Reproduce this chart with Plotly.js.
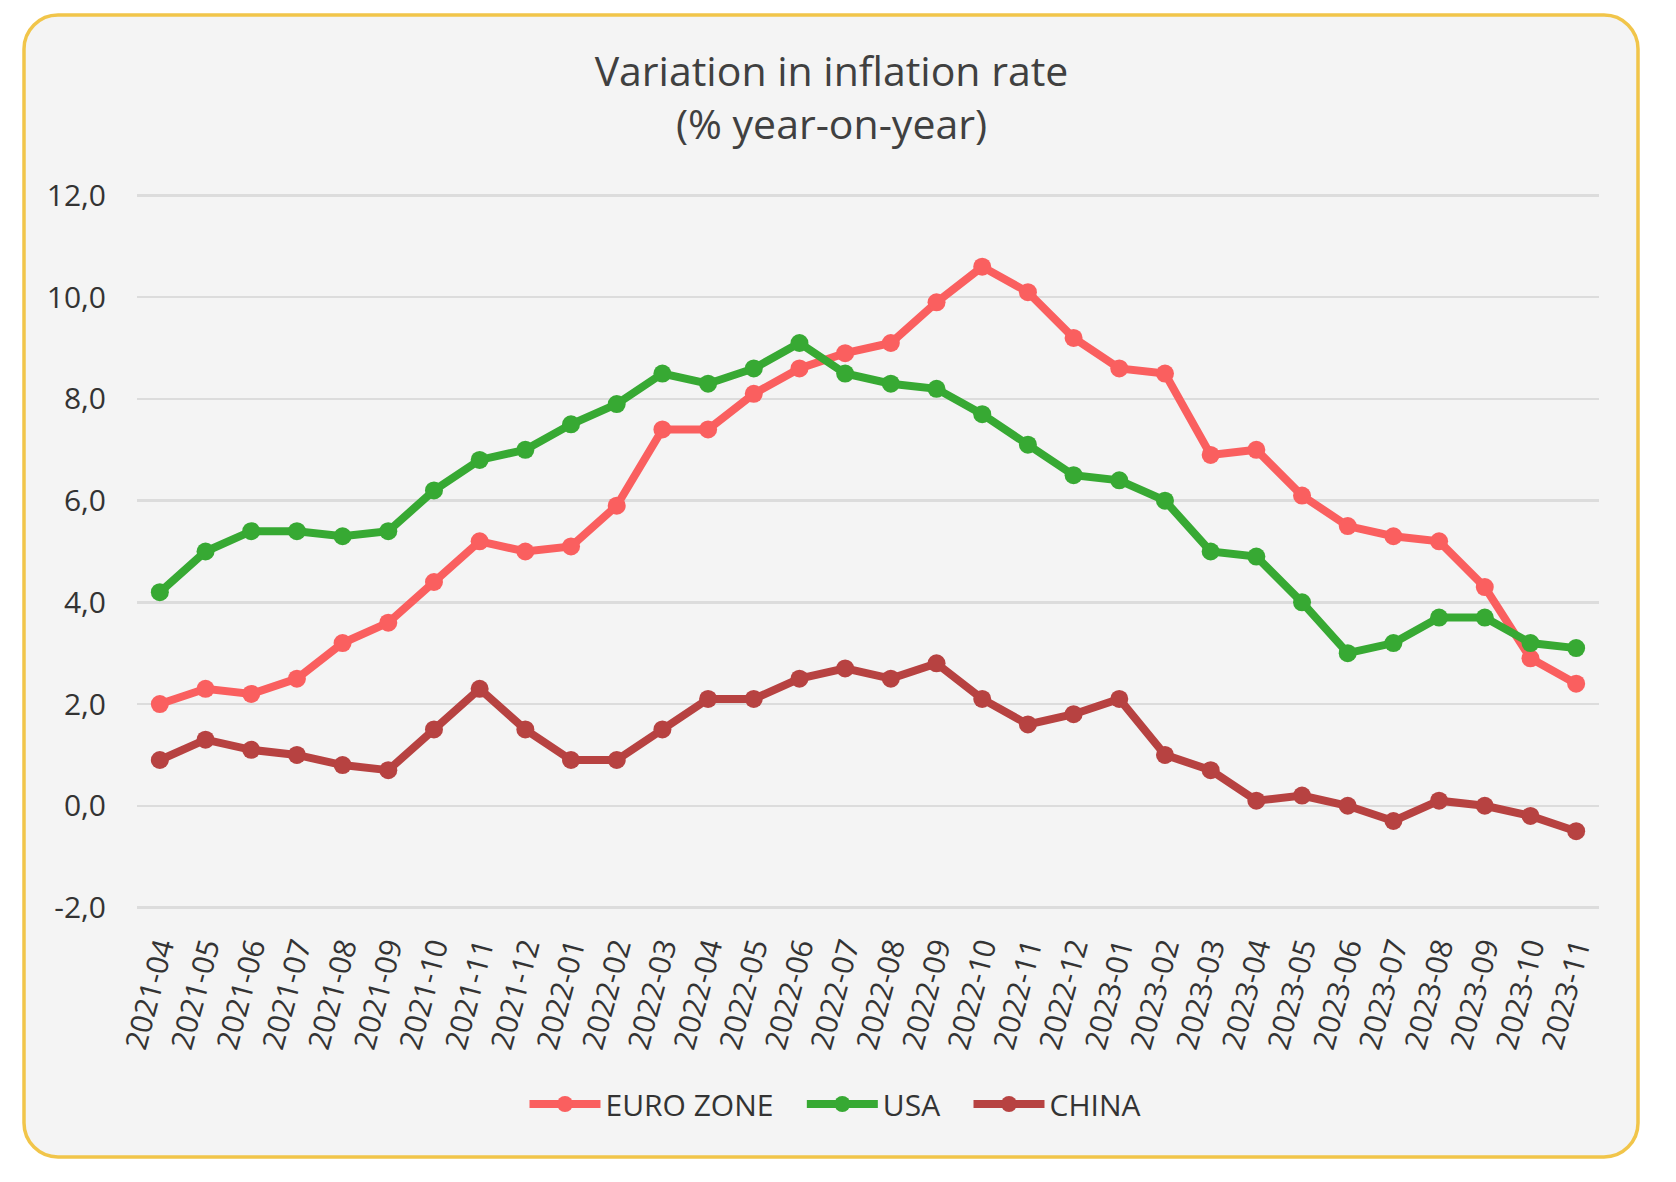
<!DOCTYPE html>
<html>
<head>
<meta charset="utf-8">
<script src="https://cdn.plot.ly/plotly-3.0.1.min.js"></script>
<style>
html,body{margin:0;padding:0;background:#ffffff;}
#chart{width:1676px;height:1182px;}
</style>
</head>
<body>
<div id="chart"></div>
<script>
// ---- data ----
const months = ['2021-04','2021-05','2021-06','2021-07','2021-08','2021-09','2021-10','2021-11','2021-12',
  '2022-01','2022-02','2022-03','2022-04','2022-05','2022-06','2022-07','2022-08','2022-09','2022-10','2022-11','2022-12',
  '2023-01','2023-02','2023-03','2023-04','2023-05','2023-06','2023-07','2023-08','2023-09','2023-10','2023-11'];
const euroZone = [2.0,2.3,2.2,2.5,3.2,3.6,4.4,5.2,5.0, 5.1,5.9,7.4,7.4,8.1,8.6,8.9,9.1,9.9,10.6,10.1,9.2, 8.6,8.5,6.9,7.0,6.1,5.5,5.3,5.2,4.3,2.9,2.4];
const usa      = [4.2,5.0,5.4,5.4,5.3,5.4,6.2,6.8,7.0, 7.5,7.9,8.5,8.3,8.6,9.1,8.5,8.3,8.2,7.7,7.1,6.5, 6.4,6.0,5.0,4.9,4.0,3.0,3.2,3.7,3.7,3.2,3.1];
const china    = [0.9,1.3,1.1,1.0,0.8,0.7,1.5,2.3,1.5, 0.9,0.9,1.5,2.1,2.1,2.5,2.7,2.5,2.8,2.1,1.6,1.8, 2.1,1.0,0.7,0.1,0.2,0.0,-0.3,0.1,0.0,-0.2,-0.5];
const seriesNames = ['EURO ZONE','USA','CHINA'];
const yTickValues = [-2,0,2,4,6,8,10,12];
const yTickLabels = ['-2,0','0,0','2,0','4,0','6,0','8,0','10,0','12,0'];

// ---- layout geometry ----
const W = 1676, H = 1182;
const M = {l:137, r:77, t:193, b:272, pad:0};
const pw = W - M.l - M.r, ph = H - M.t - M.b;
function px2x(p){ return (p - M.l) / pw; }
function py2y(p){ return (H - M.b - p) / ph; }

// rounded frame behind the chart (paper coordinates)
function framePath(L, T, R, B, r){
  const k = 0.5523 * r;
  const P = (x, y) => px2x(x).toFixed(5) + ',' + py2y(y).toFixed(5);
  return 'M' + P(L + r, T) +
    ' L' + P(R - r, T) +
    ' C' + P(R - r + k, T) + ' ' + P(R, T + r - k) + ' ' + P(R, T + r) +
    ' L' + P(R, B - r) +
    ' C' + P(R, B - r + k) + ' ' + P(R - r + k, B) + ' ' + P(R - r, B) +
    ' L' + P(L + r, B) +
    ' C' + P(L + r - k, B) + ' ' + P(L, B - r + k) + ' ' + P(L, B - r) +
    ' L' + P(L, T + r) +
    ' C' + P(L, T + r - k) + ' ' + P(L + r - k, T) + ' ' + P(L + r, T) + ' Z';
}

const colors = ['#fa5f5f', '#37a933', '#b74241'];
const values = [euroZone, usa, china];
const gapAfter = '\u00a0\u00a0\u00a0';   // extra spacing between legend entries

const traces = values.map((v, i) => ({
  type: 'scatter',
  mode: 'lines+markers',
  x: months,
  y: v,
  name: seriesNames[i] + (i < values.length - 1 ? gapAfter : ''),
  line: {color: colors[i], width: 8},
  marker: {color: colors[i], size: 18},
  hoverinfo: 'skip'
}));

const layout = {
  width: W, height: H,
  margin: M,
  paper_bgcolor: '#ffffff',
  plot_bgcolor: 'rgba(0,0,0,0)',
  font: {family: '"Open Sans", sans-serif', size: 30, color: '#333333'},
  title: {
    text: 'Variation in inflation rate<br>(% year-on-year)',
    font: {family: '"Open Sans", sans-serif', size: 41, color: '#404040'},
    x: 831.5 / W, xref: 'container', xanchor: 'center',
    y: 1 - 86 / H, yref: 'container', yanchor: 'middle'
  },
  xaxis: {
    type: 'category',
    range: [-0.5, 31.5],
    tickangle: -75,
    showgrid: false,
    zeroline: false,
    showline: false,
    ticks: '',
    ticklabelstandoff: 13,
    tickfont: {size: 30, color: '#333333'},
    fixedrange: true
  },
  yaxis: {
    range: [-2.05, 12.05],
    tickvals: yTickValues,
    ticktext: yTickLabels,
    showgrid: true,
    gridcolor: '#dcdcdc',
    gridwidth: 2.5,
    zeroline: false,
    showline: false,
    ticks: '',
    ticklabelstandoff: 30,
    tickfont: {size: 30, color: '#333333'},
    fixedrange: true
  },
  legend: {
    orientation: 'h',
    x: px2x(835), xanchor: 'center',
    y: py2y(1104), yanchor: 'middle',
    font: {size: 30, color: '#333333'},
    itemwidth: 71,
    bgcolor: 'rgba(0,0,0,0)',
    traceorder: 'normal'
  },
  showlegend: true,
  hovermode: false,
  shapes: [{
    type: 'path',
    xref: 'paper', yref: 'paper',
    path: framePath(24, 15, 1638, 1157, 34),
    fillcolor: '#f4f4f4',
    line: {color: '#f1c54a', width: 3.5},
    layer: 'below'
  }]
};

Plotly.newPlot('chart', traces, layout, {displayModeBar: false, staticPlot: true});
</script>
</body>
</html>
